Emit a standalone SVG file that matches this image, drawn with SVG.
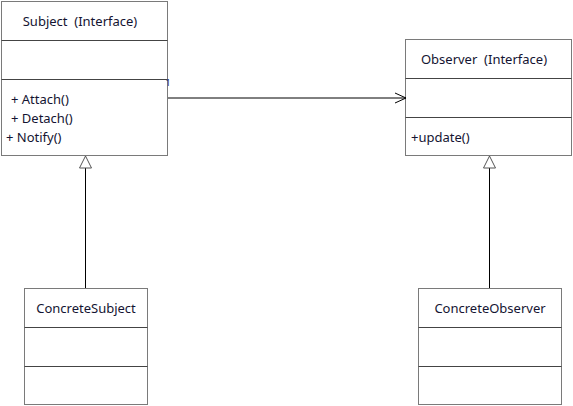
<svg xmlns="http://www.w3.org/2000/svg" width="573" height="406" viewBox="0 0 573 406">
<style>
.box{fill:#fff;stroke:#7a7a7a;stroke-width:1}
.div{stroke:#444;stroke-width:1}
.t{font-family:"Noto Sans","DejaVu Sans",sans-serif;font-size:13px;fill:#141432;white-space:pre}
.c{text-anchor:middle}
.ln{stroke:#000;stroke-width:1;fill:none}
</style>
<defs>
<marker id="open" markerWidth="12" markerHeight="12" refX="11" refY="6" orient="auto" markerUnits="userSpaceOnUse">
<path d="M0,1 L11,6 L0,11" fill="none" stroke="#000" stroke-width="1"/>
</marker>
<marker id="tri" markerWidth="14" markerHeight="14" refX="13" refY="7" orient="auto" markerUnits="userSpaceOnUse">
<path d="M1,1 L13,7 L1,13 Z" fill="#fff" stroke="#555" stroke-width="1"/>
</marker>
</defs>
<g id="subject">
<rect class="box" x="1.5" y="1.5" width="166" height="154"/>
<line class="div" x1="1.5" y1="40.5" x2="167.5" y2="40.5"/>
<line class="div" x1="1.5" y1="79.5" x2="167.5" y2="79.5"/>
<text class="t c" x="80" y="26" xml:space="preserve">Subject  (Interface)</text>
<text class="t" x="11" y="104">+ Attach()</text>
<text class="t" x="11" y="123">+ Detach()</text>
<text class="t" x="6" y="142">+ Notify()</text>
</g>
<g id="observer">
<rect class="box" x="405.5" y="39.5" width="166" height="116"/>
<line class="div" x1="405.5" y1="78.5" x2="571.5" y2="78.5"/>
<line class="div" x1="405.5" y1="117.5" x2="571.5" y2="117.5"/>
<text class="t c" x="484" y="64" xml:space="preserve">Observer  (Interface)</text>
<text class="t" x="411" y="142">+update()</text>
</g>
<g id="concreteSubject">
<rect class="box" x="24.5" y="288.5" width="123" height="116"/>
<line class="div" x1="24.5" y1="327.5" x2="147.5" y2="327.5"/>
<line class="div" x1="24.5" y1="366.5" x2="147.5" y2="366.5"/>
<text class="t c" x="86" y="313">ConcreteSubject</text>
</g>
<g id="concreteObserver">
<rect class="box" x="418.5" y="288.5" width="143" height="116"/>
<line class="div" x1="418.5" y1="327.5" x2="561.5" y2="327.5"/>
<line class="div" x1="418.5" y1="366.5" x2="561.5" y2="366.5"/>
<text class="t c" x="490" y="313">ConcreteObserver</text>
</g>
<g id="connectors">
<line class="ln" x1="168" y1="98" x2="406" y2="98" marker-end="url(#open)"/>
<text x="165.5" y="86" style="font-family:'Noto Sans',sans-serif;font-size:9px;fill:#1a2a6a">1</text>
<line class="ln" x1="85.5" y1="288" x2="85.5" y2="156" marker-end="url(#tri)"/>
<line class="ln" x1="489.5" y1="288" x2="489.5" y2="156" marker-end="url(#tri)"/>
</g>
</svg>
